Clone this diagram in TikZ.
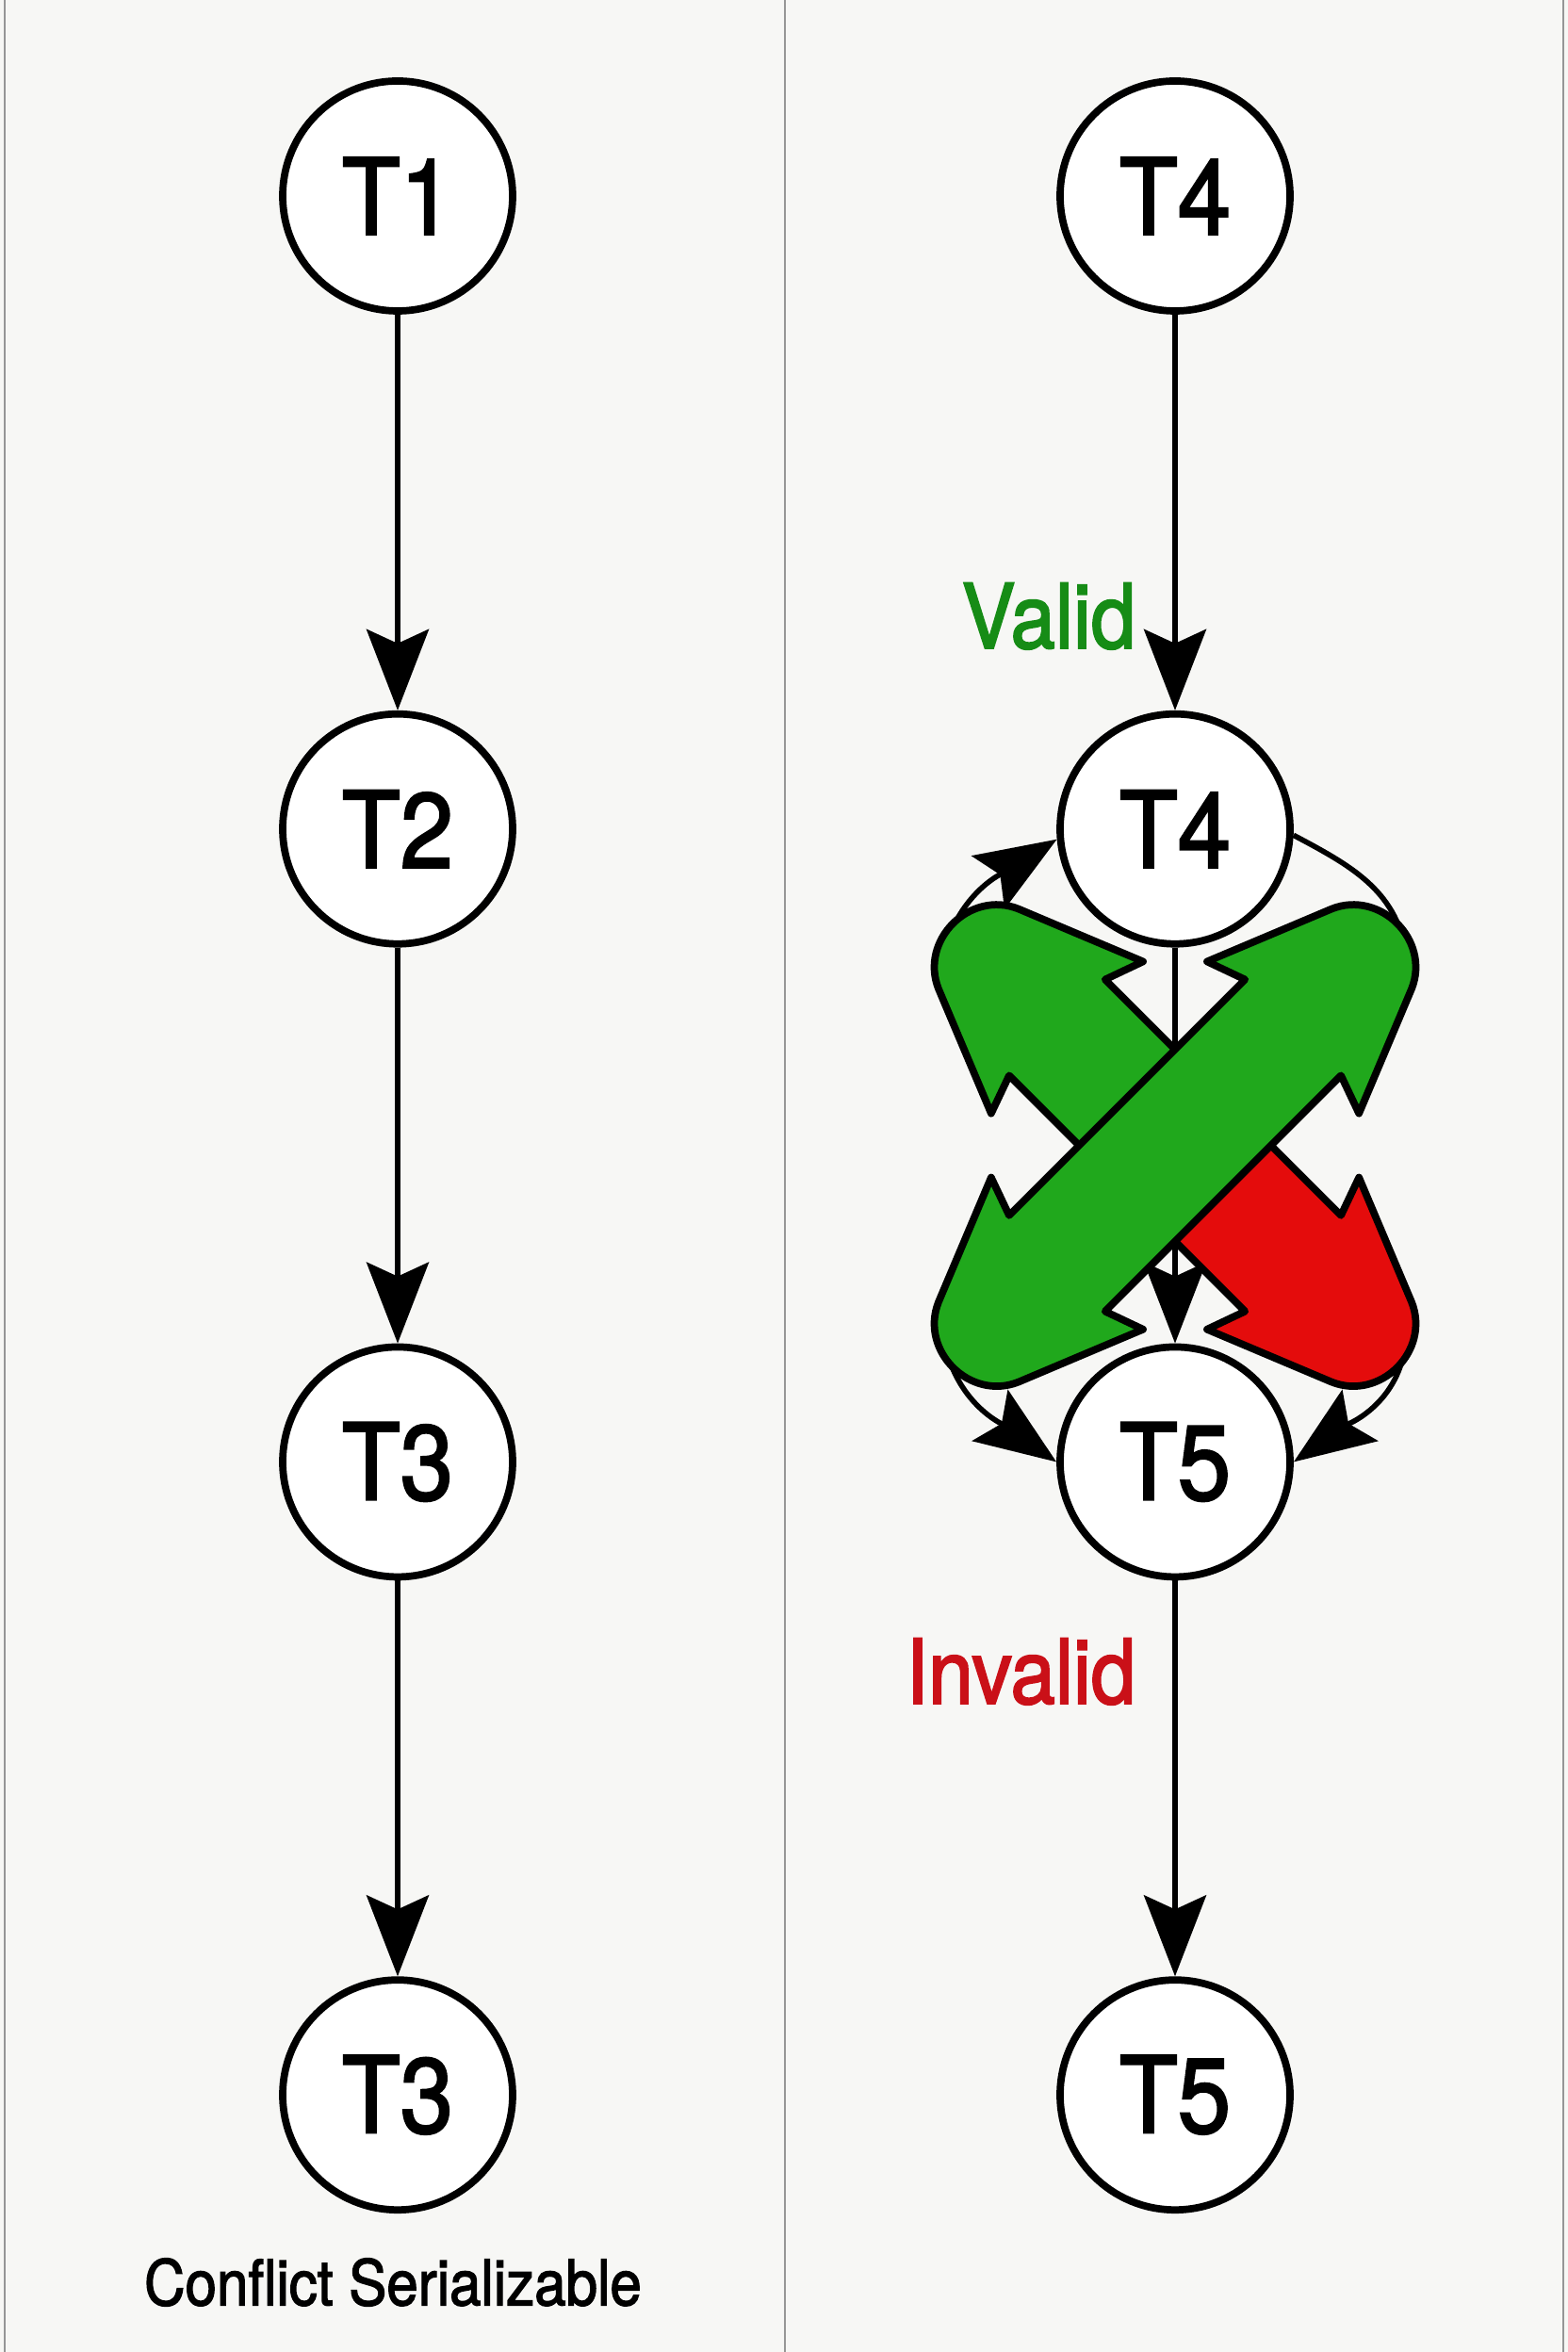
\documentclass[tikz,border=0pt]{standalone}
\usepackage{fontspec}
\setmainfont{TeX Gyre Heros}[FakeStretch=0.9, FakeBold=2]
\usepackage{xcolor}
\usepackage{tikz}
\usetikzlibrary{arrows.meta, positioning, calc}
\definecolor{bgpaper}{RGB}{247,247,245}
\definecolor{panelgray}{RGB}{150,150,150}
\definecolor{validgreen}{RGB}{32,168,28}
\definecolor{validtext}{RGB}{22,140,22}
\definecolor{invalidred}{RGB}{228,12,12}
\definecolor{invalidtext}{RGB}{202,16,24}

\begin{document}
\begin{tikzpicture}[
    >={Stealth[length=0.86cm, width=0.66cm, inset=0.15cm]},
    txn/.style={circle, draw=black, line width=2.2pt, fill=white,
                minimum size=2.44cm, inner sep=0pt,
                font=\fontsize{32}{36}\selectfont},
    edge/.style={line width=1.6pt, ->},
    fat/.style={draw=black, line width=2.2pt, line join=round},
    node distance=4.2cm
]
    % Paper and panel frames
    \useasboundingbox (0,0) rectangle (16.64,24.96);
    \fill[bgpaper] (0,0) rectangle (16.64,24.96);
    \foreach \x in {0.05, 8.33, 16.59} {
        \draw[panelgray, line width=0.8pt] (\x,0) -- (\x,24.96);
    }
    % Transactions, serial schedule
    \node[txn] (T1) at (4.22,22.88) {T1};
    \node[txn, below=of T1] (T2) {T2};
    \node[txn, below=of T2] (T3) {T3};
    \node[txn, below=of T3] (T3b) {T3};
    % Transactions, with the cycle
    \node[txn] (T4) at (12.47,22.88) {T4};
    \node[txn, below=of T4] (T4b) {T4};
    \node[txn, below=of T4b] (T5) {T5};
    \node[txn, below=of T5] (T5b) {T5};
    % Precedence edges
    \draw[edge] (T1) -- (T2);
    \draw[edge] (T2) -- (T3);
    \draw[edge] (T3) -- (T3b);
    \draw[edge] (T4) -- (T4b);
    \draw[edge] (T4b) -- (T5);
    \draw[edge] (T5) -- (T5b);
    % Side edges, they run under the fat arrows
    \coordinate (X) at ($(T4b)!0.5!(T5)$);
    \coordinate (capTL) at ($(X)+(140:3.2)$);
    \coordinate (capTR) at ($(X)+(40:3.2)$);
    \coordinate (capBL) at ($(X)+(220:3.2)$);
    \coordinate (capBR) at ($(X)+(-40:3.2)$);
    \draw[edge, <->] (T4b.185) to[out=212, in=75] (capTL)
        -- (X) -- (capBL) to[out=-80, in=145] (T5.180);
    \draw[edge] (T4b.-3) to[out=-28, in=100] (capTR)
        -- (X) -- (capBR) to[out=-95, in=35] (T5.0);
    % Crossed fat arrows
    \begin{scope}[shift={(X)}, rotate=-45]
        \foreach \s/\col in {-1/validgreen, 1/invalidred} {
            \filldraw[fat, fill=\col, xscale=\s]
                (0,0.72) -- (1.77,0.72) -- (1.62,1.14) -- (2.95,0.6)
                .. controls (3.46,0.38) and (3.46,-0.38) .. (2.95,-0.6)
                -- (1.62,-1.14) -- (1.77,-0.72) -- (0,-0.72) -- cycle;
        }
    \end{scope}
    \begin{scope}[shift={(X)}, rotate=45]
        \filldraw[fat, fill=validgreen]
            (1.77,0.72) -- (1.62,1.14) -- (2.95,0.6)
            .. controls (3.46,0.38) and (3.46,-0.38) .. (2.95,-0.6)
            -- (1.62,-1.14) -- (1.77,-0.72) -- (-1.77,-0.72)
            -- (-1.62,-1.14) -- (-2.95,-0.6)
            .. controls (-3.46,-0.38) and (-3.46,0.38) .. (-2.95,0.6)
            -- (-1.62,1.14) -- (-1.77,0.72) -- cycle;
    \end{scope}
    % Labels
    \node[text=validtext, anchor=east, inner sep=0pt,
          font=\fontsize{27}{30}\selectfont] (valid) at (12.06,18.42) {Valid};
    \node[text=invalidtext, anchor=east, inner sep=0pt,
          font=\fontsize{27}{30}\selectfont] (invalid) at (12.06,7.22) {Invalid};
    \node[font=\fontsize{19}{22}\selectfont] (caption) at (4.17,0.74)
        {Conflict Serializable};
\end{tikzpicture}
\end{document}
